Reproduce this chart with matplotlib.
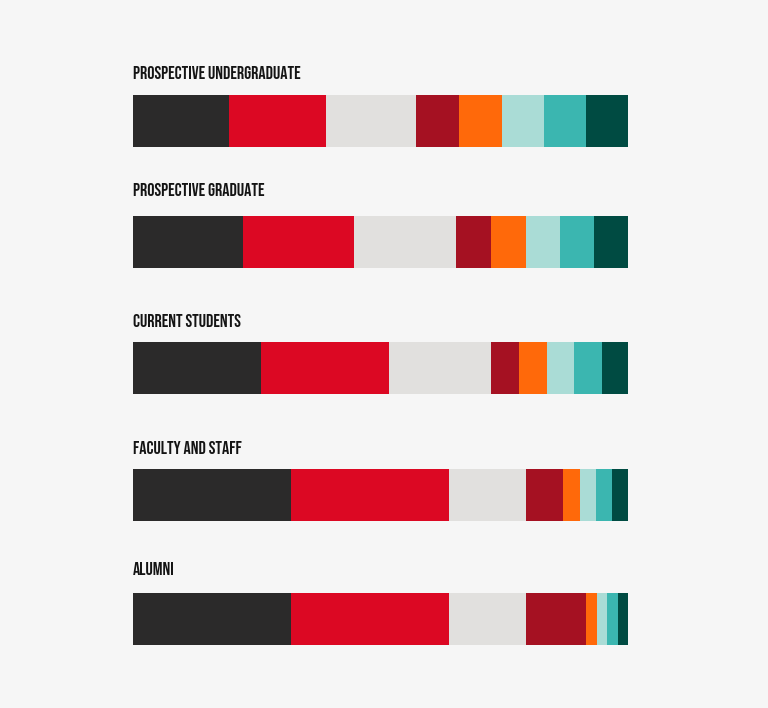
import numpy as np
import matplotlib.pyplot as plt

# audience groups and share of each segment (percent of bar)
groups = ['PROSPECTIVE UNDERGRADUATE', 'PROSPECTIVE GRADUATE', 'CURRENT STUDENTS',
          'FACULTY AND STAFF', 'ALUMNI']
seg1 = [19.5, 22.3, 25.9, 31.9, 31.9]
seg2 = [19.6, 22.4, 25.8, 32.0, 32.0]
seg3 = [18.1, 20.5, 20.5, 15.4, 15.4]
seg4 = [8.7, 7.1, 5.7, 7.5, 12.2]
seg5 = [8.6, 7.0, 5.7, 3.4, 2.1]
seg6 = [8.5, 6.9, 5.5, 3.3, 2.1]
seg7 = [8.5, 6.9, 5.5, 3.2, 2.2]
seg8 = [8.5, 6.9, 5.4, 3.3, 2.1]

colors = ['#2b2a2a', '#dc0823', '#e1e0de', '#a51122',
          '#ff690a', '#aadcd6', '#3bb6b0', '#004b42']

# layout (pixel rows, figure is 768x708)
row_y = [121.3, 241.7, 368.2, 494.5, 619.3]
label_y = [79.0, 195.7, 326.7, 454.3, 574.7]
bar_h = 52

plt.rcParams['font.family'] = ['Bebas Neue', 'DejaVu Sans']

fig = plt.figure(figsize=(7.68, 7.08), dpi=100, facecolor='#f6f6f6')
ax = fig.add_axes([132.7 / 768, 0, (628.3 - 132.7) / 768, 1])
ax.set_facecolor('#f6f6f6')

segs = np.array([seg1, seg2, seg3, seg4, seg5, seg6, seg7, seg8])
left = np.zeros(len(groups))
for i in range(len(segs)):
    ax.barh(row_y, segs[i], left=left, height=bar_h, color=colors[i], linewidth=0)
    left = left + segs[i]

total = segs.sum(axis=0).max()
for g, ly in zip(groups, label_y):
    ax.text(0, ly, g, fontsize=13, fontweight='bold', color='#141414',
            ha='left', va='baseline')

ax.set_xlim(0, total)
ax.set_ylim(708, 0)
ax.axis('off')

plt.savefig('out.png', dpi=100, facecolor=fig.get_facecolor())
